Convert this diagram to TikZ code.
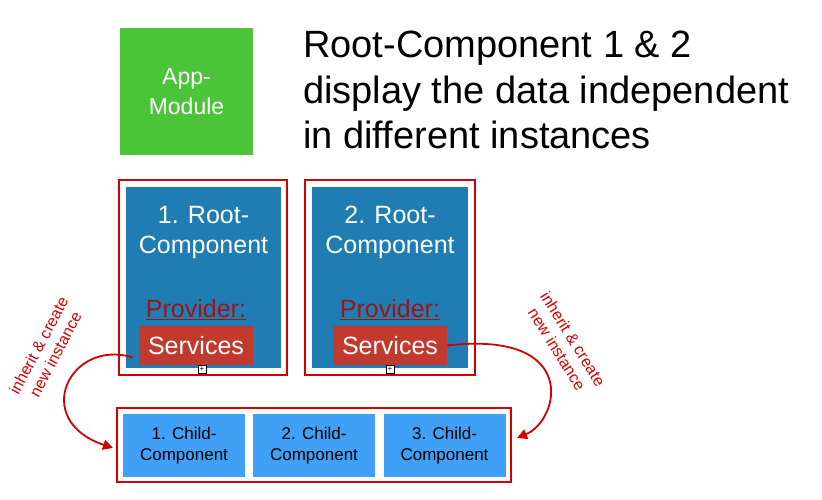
\documentclass[tikz,border=0pt]{standalone}
\usepackage{fontspec}
\setmainfont{Liberation Sans}
\usetikzlibrary{arrows.meta}
\definecolor{grn}{HTML}{4CC43A}
\definecolor{blu}{HTML}{1F7DB4}
\definecolor{lblu}{HTML}{3FA0F5}
\definecolor{srv}{HTML}{C23A2E}
\definecolor{frm}{HTML}{D40000}
\definecolor{prov}{HTML}{A01414}
\begin{document}
\begin{tikzpicture}[x=1pt,y=-1pt,
  frame/.style={draw=frm,line width=1.6pt},
  root/.style={fill=blu},
  big/.style={font=\fontsize{25}{30}\selectfont,text=white,align=center},
  svc/.style={fill=srv,text=white,font=\fontsize{25}{28}\selectfont,minimum width=114pt,minimum height=39pt,inner sep=0pt},
  child/.style={fill=lblu,minimum width=122pt,minimum height=63pt,align=center,font=\fontsize{17}{21}\selectfont,inner sep=0pt},
  plus/.style={draw,fill=white,minimum size=8pt,inner sep=0pt,font=\fontsize{8}{8}\selectfont,line width=0.5pt},
  arr/.style={draw=frm,line width=1.8pt,-{Triangle[length=10pt,width=10pt]}},
  lab/.style={text=frm,font=\fontsize{16}{19}\selectfont,align=center}]
\useasboundingbox (0,0) rectangle (822,500);
\node[fill=grn,minimum width=133pt,minimum height=127pt,text=white,align=center,font=\fontsize{23}{30}\selectfont] (app) at (186.5,91.5) {App-\\Module};
\node[anchor=north west,align=left,font=\fontsize{38}{45.5}\selectfont,inner sep=0pt] (title) at (303,31) {Root-Component 1 \& 2\\display the data independent\\in different instances};
% root 1
\draw[frame] (119,180) rectangle (287,375);
\fill[root] (126,187) rectangle (281,368);
\node[big] (r1) at (203.5,232) {1. Root-\\Component};
\node[text=prov,font=\fontsize{25}{28}\selectfont] (p1) at (196,310) {\underline{Provider:}};
\node[svc] (s1) at (196,345.5) {Services};
\node[plus] (x1) at (202,369) {+};
% root 2
\draw[frame] (305,180) rectangle (475,375);
\fill[root] (312,187) rectangle (468,368);
\node[big] (r2) at (390,232) {2. Root-\\Component};
\node[text=prov,font=\fontsize{25}{28}\selectfont] (p2) at (390,310) {\underline{Provider:}};
\node[svc] (s2) at (390,345.5) {Services};
\node[plus] (x2) at (390,369) {+};
% children
\draw[frame] (117,408) rectangle (511,482);
\node[child] (c1) at (184,445.5) {1. Child-\\Component};
\node[child] (c2) at (314,445.5) {2. Child-\\Component};
\node[child] (c3) at (444.5,445.5) {3. Child-\\Component};
\coordinate (e1) at (113,448);
\coordinate (e2) at (517,438);
\draw[arr] ([xshift=-6pt,yshift=-12pt]s1.west) .. controls (70,338) and (30,420) .. (e1);
\draw[arr] (s2.east) .. controls (580,330) and (560,420) .. (e2);
\node[lab,rotate=62] (l1) at (47,350) {inherit \& create\\new instance};
\node[lab,rotate=-58] (l2) at (565,344) {inherit \& create\\new instance};
\end{tikzpicture}
\end{document}
